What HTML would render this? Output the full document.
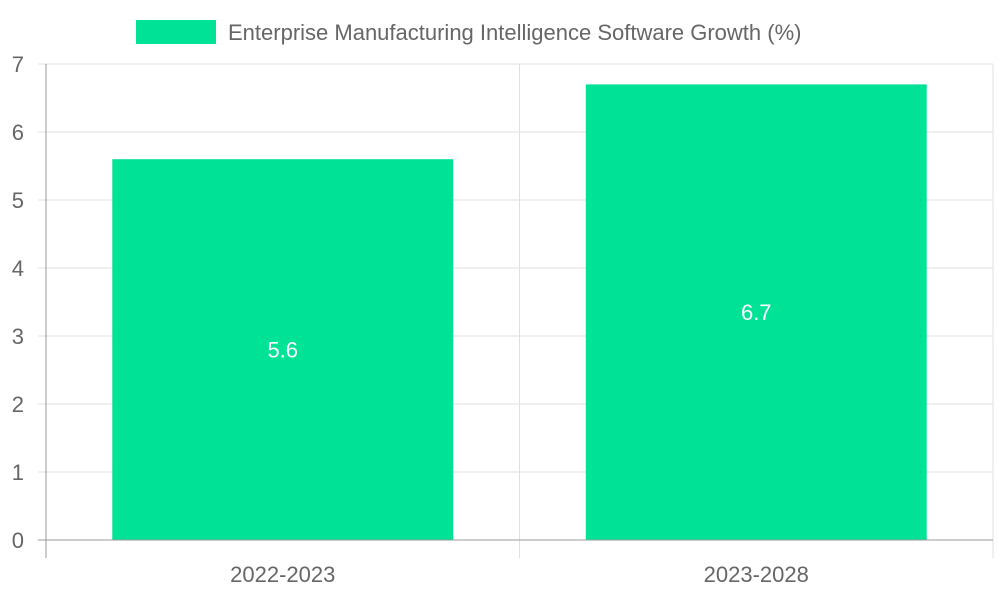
<!DOCTYPE html>
<html><head><meta charset="utf-8"><style>
html,body{margin:0;padding:0;background:#fff;}
svg{display:block;font-family:"Liberation Sans",sans-serif;}
</style></head><body>
<svg id="chart" width="1000" height="600" viewBox="0 0 1000 600">
<g>
<rect x="136" y="20" width="80" height="24" fill="#00e396"/>
<text x="228" y="40" font-size="22" fill="#666">Enterprise Manufacturing Intelligence Software Growth (%)</text>
</g>
<g id="grid"></g>
<g id="bars"></g>
<g id="axes"></g>
</svg>
<script>
const categories = ["2022-2023", "2023-2028"];
const values = [5.6, 6.7];
const yTicks = [0, 1, 2, 3, 4, 5, 6, 7];
const NS = "http://www.w3.org/2000/svg";
const L = 46, R = 993, T = 64, B = 540, yMax = 7;
const y = v => B - (v / yMax) * (B - T);
const bandW = (R - L) / categories.length;
const xc = i => L + bandW * (i + 0.5);
function mk(tag, attrs, parent) {
  const e = document.createElementNS(NS, tag);
  for (const k in attrs) e.setAttribute(k, attrs[k]);
  parent.appendChild(e); return e;
}
const grid = document.getElementById("grid"), bars = document.getElementById("bars"), axes = document.getElementById("axes");
yTicks.forEach(t => {
  const ln = mk("line", {x1: 38, x2: R, y1: y(t), y2: y(t), stroke: t === 0 ? "#999" : "#e0e0e0", "stroke-width": 1}, t === 0 ? axes : grid);
  
  
  const tx = mk("text", {x: 24, y: y(t) + 8, "font-size": 22, fill: "#666", "text-anchor": "end"}, axes);
  tx.textContent = t;
  
  
});
for (let i = 0; i <= categories.length; i++) {
  const xx = L + bandW * i;
  const ln = mk("line", {x1: xx, x2: xx, y1: T, y2: 558, stroke: i === 0 ? "#999" : "#e0e0e0", "stroke-width": 1}, i === 0 ? axes : grid);
  
  
}
categories.forEach((c, i) => {
  const w = bandW * 0.72;
  const r = mk("rect", {x: xc(i) - w / 2, y: y(values[i]), width: w, height: B - y(values[i]), fill: "#00e396"}, bars);
  
  
  const v = mk("text", {x: xc(i), y: (y(values[i]) + B) / 2 + 8, "font-size": 22, fill: "#fff", "text-anchor": "middle"}, bars);
  v.textContent = values[i];
  
  
  const xl = mk("text", {x: xc(i), y: 582, "font-size": 22, fill: "#666", "text-anchor": "middle"}, axes);
  xl.textContent = c;
  
  
});
</script>
</body></html>
